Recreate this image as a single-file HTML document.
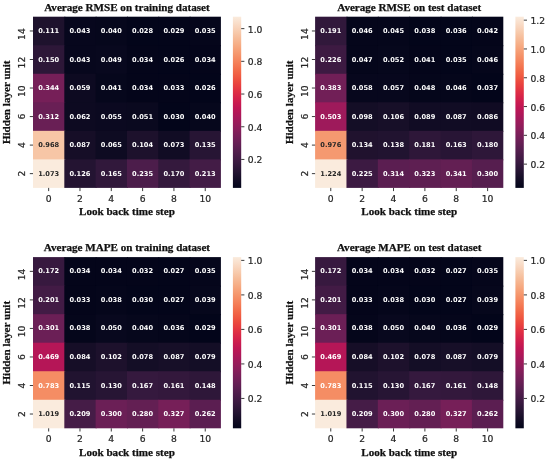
<!DOCTYPE html>
<html lang="en"><head><meta charset="utf-8"><title>Heatmaps</title>
<style>
html,body{margin:0;padding:0;background:#fff;}
svg{display:block;}
text{font-family:"DejaVu Sans","Liberation Sans",sans-serif;fill:#262626;}
.ann{font-size:6.65px;font-weight:bold;text-anchor:middle;}
.wh{fill:#ffffff;}
.dk{fill:#262626;}
.title{font-family:"Liberation Serif",serif;font-weight:bold;font-size:11.1px;text-anchor:middle;fill:#111;stroke:#111;stroke-width:0.25px;}
.lab{font-family:"Liberation Serif",serif;font-weight:bold;font-size:11.1px;text-anchor:middle;fill:#111;stroke:#111;stroke-width:0.25px;}
.tl{font-size:9.2px;text-anchor:middle;stroke:#262626;stroke-width:0.22px;}
.cl{font-size:9.2px;text-anchor:start;stroke:#262626;stroke-width:0.22px;}
.tk{stroke:#262626;stroke-width:0.9;}
</style></head>
<body>
<svg width="550" height="462" viewBox="0 0 550 462">
<defs><linearGradient id="cb0" x1="0" y1="0" x2="0" y2="1"><stop offset="0.0000" stop-color="#faebdd"/><stop offset="0.0312" stop-color="#f9e0cd"/><stop offset="0.0625" stop-color="#f8d4bc"/><stop offset="0.0938" stop-color="#f7c9aa"/><stop offset="0.1250" stop-color="#f6bc99"/><stop offset="0.1562" stop-color="#f6b089"/><stop offset="0.1875" stop-color="#f6a37a"/><stop offset="0.2188" stop-color="#f5966c"/><stop offset="0.2500" stop-color="#f58860"/><stop offset="0.2812" stop-color="#f47a54"/><stop offset="0.3125" stop-color="#f26b49"/><stop offset="0.3438" stop-color="#f05c42"/><stop offset="0.3750" stop-color="#ec4c3e"/><stop offset="0.4062" stop-color="#e73d3f"/><stop offset="0.4375" stop-color="#df2f44"/><stop offset="0.4688" stop-color="#d62449"/><stop offset="0.5000" stop-color="#cb1b4f"/><stop offset="0.5312" stop-color="#bf1654"/><stop offset="0.5625" stop-color="#b21758"/><stop offset="0.5938" stop-color="#a4195b"/><stop offset="0.6250" stop-color="#971c5b"/><stop offset="0.6562" stop-color="#891e5b"/><stop offset="0.6875" stop-color="#7b1f59"/><stop offset="0.7188" stop-color="#6e1f57"/><stop offset="0.7500" stop-color="#611f53"/><stop offset="0.7812" stop-color="#541e4e"/><stop offset="0.8125" stop-color="#481c48"/><stop offset="0.8438" stop-color="#3c1a42"/><stop offset="0.8750" stop-color="#30173a"/><stop offset="0.9062" stop-color="#241432"/><stop offset="0.9375" stop-color="#180f29"/><stop offset="0.9688" stop-color="#0d0a21"/><stop offset="1.0000" stop-color="#03051a"/></linearGradient><linearGradient id="cb1" x1="0" y1="0" x2="0" y2="1"><stop offset="0.0000" stop-color="#faebdd"/><stop offset="0.0312" stop-color="#f9e0cd"/><stop offset="0.0625" stop-color="#f8d4bc"/><stop offset="0.0938" stop-color="#f7c9aa"/><stop offset="0.1250" stop-color="#f6bc99"/><stop offset="0.1562" stop-color="#f6b089"/><stop offset="0.1875" stop-color="#f6a37a"/><stop offset="0.2188" stop-color="#f5966c"/><stop offset="0.2500" stop-color="#f58860"/><stop offset="0.2812" stop-color="#f47a54"/><stop offset="0.3125" stop-color="#f26b49"/><stop offset="0.3438" stop-color="#f05c42"/><stop offset="0.3750" stop-color="#ec4c3e"/><stop offset="0.4062" stop-color="#e73d3f"/><stop offset="0.4375" stop-color="#df2f44"/><stop offset="0.4688" stop-color="#d62449"/><stop offset="0.5000" stop-color="#cb1b4f"/><stop offset="0.5312" stop-color="#bf1654"/><stop offset="0.5625" stop-color="#b21758"/><stop offset="0.5938" stop-color="#a4195b"/><stop offset="0.6250" stop-color="#971c5b"/><stop offset="0.6562" stop-color="#891e5b"/><stop offset="0.6875" stop-color="#7b1f59"/><stop offset="0.7188" stop-color="#6e1f57"/><stop offset="0.7500" stop-color="#611f53"/><stop offset="0.7812" stop-color="#541e4e"/><stop offset="0.8125" stop-color="#481c48"/><stop offset="0.8438" stop-color="#3c1a42"/><stop offset="0.8750" stop-color="#30173a"/><stop offset="0.9062" stop-color="#241432"/><stop offset="0.9375" stop-color="#180f29"/><stop offset="0.9688" stop-color="#0d0a21"/><stop offset="1.0000" stop-color="#03051a"/></linearGradient><linearGradient id="cb2" x1="0" y1="0" x2="0" y2="1"><stop offset="0.0000" stop-color="#faebdd"/><stop offset="0.0312" stop-color="#f9e0cd"/><stop offset="0.0625" stop-color="#f8d4bc"/><stop offset="0.0938" stop-color="#f7c9aa"/><stop offset="0.1250" stop-color="#f6bc99"/><stop offset="0.1562" stop-color="#f6b089"/><stop offset="0.1875" stop-color="#f6a37a"/><stop offset="0.2188" stop-color="#f5966c"/><stop offset="0.2500" stop-color="#f58860"/><stop offset="0.2812" stop-color="#f47a54"/><stop offset="0.3125" stop-color="#f26b49"/><stop offset="0.3438" stop-color="#f05c42"/><stop offset="0.3750" stop-color="#ec4c3e"/><stop offset="0.4062" stop-color="#e73d3f"/><stop offset="0.4375" stop-color="#df2f44"/><stop offset="0.4688" stop-color="#d62449"/><stop offset="0.5000" stop-color="#cb1b4f"/><stop offset="0.5312" stop-color="#bf1654"/><stop offset="0.5625" stop-color="#b21758"/><stop offset="0.5938" stop-color="#a4195b"/><stop offset="0.6250" stop-color="#971c5b"/><stop offset="0.6562" stop-color="#891e5b"/><stop offset="0.6875" stop-color="#7b1f59"/><stop offset="0.7188" stop-color="#6e1f57"/><stop offset="0.7500" stop-color="#611f53"/><stop offset="0.7812" stop-color="#541e4e"/><stop offset="0.8125" stop-color="#481c48"/><stop offset="0.8438" stop-color="#3c1a42"/><stop offset="0.8750" stop-color="#30173a"/><stop offset="0.9062" stop-color="#241432"/><stop offset="0.9375" stop-color="#180f29"/><stop offset="0.9688" stop-color="#0d0a21"/><stop offset="1.0000" stop-color="#03051a"/></linearGradient><linearGradient id="cb3" x1="0" y1="0" x2="0" y2="1"><stop offset="0.0000" stop-color="#faebdd"/><stop offset="0.0312" stop-color="#f9e0cd"/><stop offset="0.0625" stop-color="#f8d4bc"/><stop offset="0.0938" stop-color="#f7c9aa"/><stop offset="0.1250" stop-color="#f6bc99"/><stop offset="0.1562" stop-color="#f6b089"/><stop offset="0.1875" stop-color="#f6a37a"/><stop offset="0.2188" stop-color="#f5966c"/><stop offset="0.2500" stop-color="#f58860"/><stop offset="0.2812" stop-color="#f47a54"/><stop offset="0.3125" stop-color="#f26b49"/><stop offset="0.3438" stop-color="#f05c42"/><stop offset="0.3750" stop-color="#ec4c3e"/><stop offset="0.4062" stop-color="#e73d3f"/><stop offset="0.4375" stop-color="#df2f44"/><stop offset="0.4688" stop-color="#d62449"/><stop offset="0.5000" stop-color="#cb1b4f"/><stop offset="0.5312" stop-color="#bf1654"/><stop offset="0.5625" stop-color="#b21758"/><stop offset="0.5938" stop-color="#a4195b"/><stop offset="0.6250" stop-color="#971c5b"/><stop offset="0.6562" stop-color="#891e5b"/><stop offset="0.6875" stop-color="#7b1f59"/><stop offset="0.7188" stop-color="#6e1f57"/><stop offset="0.7500" stop-color="#611f53"/><stop offset="0.7812" stop-color="#541e4e"/><stop offset="0.8125" stop-color="#481c48"/><stop offset="0.8438" stop-color="#3c1a42"/><stop offset="0.8750" stop-color="#30173a"/><stop offset="0.9062" stop-color="#241432"/><stop offset="0.9375" stop-color="#180f29"/><stop offset="0.9688" stop-color="#0d0a21"/><stop offset="1.0000" stop-color="#03051a"/></linearGradient></defs>
<rect x="0" y="0" width="550" height="462" fill="#ffffff"/>
<g><rect x="33.00" y="16.70" width="32.32" height="29.53" fill="#1e122d"/>
<rect x="64.32" y="16.70" width="32.32" height="29.53" fill="#07071d"/>
<rect x="95.63" y="16.70" width="32.32" height="29.53" fill="#06071c"/>
<rect x="126.95" y="16.70" width="32.32" height="29.53" fill="#03051a"/>
<rect x="158.27" y="16.70" width="32.32" height="29.53" fill="#03051a"/>
<rect x="189.58" y="16.70" width="31.32" height="29.53" fill="#05061b"/>
<rect x="33.00" y="45.23" width="32.32" height="29.53" fill="#2d1738"/>
<rect x="64.32" y="45.23" width="32.32" height="29.53" fill="#07071d"/>
<rect x="95.63" y="45.23" width="32.32" height="29.53" fill="#08081e"/>
<rect x="126.95" y="45.23" width="32.32" height="29.53" fill="#04051a"/>
<rect x="158.27" y="45.23" width="32.32" height="29.53" fill="#03051a"/>
<rect x="189.58" y="45.23" width="31.32" height="29.53" fill="#04051a"/>
<rect x="33.00" y="73.77" width="32.32" height="29.53" fill="#761f58"/>
<rect x="64.32" y="73.77" width="32.32" height="29.53" fill="#0d0a21"/>
<rect x="95.63" y="73.77" width="32.32" height="29.53" fill="#06071c"/>
<rect x="126.95" y="73.77" width="32.32" height="29.53" fill="#04051a"/>
<rect x="158.27" y="73.77" width="32.32" height="29.53" fill="#04051a"/>
<rect x="189.58" y="73.77" width="31.32" height="29.53" fill="#03051a"/>
<rect x="33.00" y="102.30" width="32.32" height="29.53" fill="#691f55"/>
<rect x="64.32" y="102.30" width="32.32" height="29.53" fill="#0d0a21"/>
<rect x="95.63" y="102.30" width="32.32" height="29.53" fill="#0b0920"/>
<rect x="126.95" y="102.30" width="32.32" height="29.53" fill="#0a091f"/>
<rect x="158.27" y="102.30" width="32.32" height="29.53" fill="#03051a"/>
<rect x="189.58" y="102.30" width="31.32" height="29.53" fill="#06071c"/>
<rect x="33.00" y="130.83" width="32.32" height="29.53" fill="#f7c6a6"/>
<rect x="64.32" y="130.83" width="32.32" height="29.53" fill="#160e27"/>
<rect x="95.63" y="130.83" width="32.32" height="29.53" fill="#0e0b22"/>
<rect x="126.95" y="130.83" width="32.32" height="29.53" fill="#1d112c"/>
<rect x="158.27" y="130.83" width="32.32" height="29.53" fill="#110c24"/>
<rect x="189.58" y="130.83" width="31.32" height="29.53" fill="#271534"/>
<rect x="33.00" y="159.37" width="32.32" height="28.53" fill="#faebdd"/>
<rect x="64.32" y="159.37" width="32.32" height="28.53" fill="#241432"/>
<rect x="95.63" y="159.37" width="32.32" height="28.53" fill="#31183b"/>
<rect x="126.95" y="159.37" width="32.32" height="28.53" fill="#4c1d4b"/>
<rect x="158.27" y="159.37" width="32.32" height="28.53" fill="#34193d"/>
<rect x="189.58" y="159.37" width="31.32" height="28.53" fill="#431c46"/>
<text class="ann wh" x="48.66" y="32.99">0.111</text>
<text class="ann wh" x="79.97" y="32.99">0.043</text>
<text class="ann wh" x="111.29" y="32.99">0.040</text>
<text class="ann wh" x="142.61" y="32.99">0.028</text>
<text class="ann wh" x="173.93" y="32.99">0.029</text>
<text class="ann wh" x="205.24" y="32.99">0.035</text>
<text class="ann wh" x="48.66" y="61.52">0.150</text>
<text class="ann wh" x="79.97" y="61.52">0.043</text>
<text class="ann wh" x="111.29" y="61.52">0.049</text>
<text class="ann wh" x="142.61" y="61.52">0.034</text>
<text class="ann wh" x="173.93" y="61.52">0.026</text>
<text class="ann wh" x="205.24" y="61.52">0.034</text>
<text class="ann wh" x="48.66" y="90.06">0.344</text>
<text class="ann wh" x="79.97" y="90.06">0.059</text>
<text class="ann wh" x="111.29" y="90.06">0.041</text>
<text class="ann wh" x="142.61" y="90.06">0.034</text>
<text class="ann wh" x="173.93" y="90.06">0.033</text>
<text class="ann wh" x="205.24" y="90.06">0.026</text>
<text class="ann wh" x="48.66" y="118.59">0.312</text>
<text class="ann wh" x="79.97" y="118.59">0.062</text>
<text class="ann wh" x="111.29" y="118.59">0.055</text>
<text class="ann wh" x="142.61" y="118.59">0.051</text>
<text class="ann wh" x="173.93" y="118.59">0.030</text>
<text class="ann wh" x="205.24" y="118.59">0.040</text>
<text class="ann dk" x="48.66" y="147.12">0.968</text>
<text class="ann wh" x="79.97" y="147.12">0.087</text>
<text class="ann wh" x="111.29" y="147.12">0.065</text>
<text class="ann wh" x="142.61" y="147.12">0.104</text>
<text class="ann wh" x="173.93" y="147.12">0.073</text>
<text class="ann wh" x="205.24" y="147.12">0.135</text>
<text class="ann dk" x="48.66" y="175.66">1.073</text>
<text class="ann wh" x="79.97" y="175.66">0.126</text>
<text class="ann wh" x="111.29" y="175.66">0.165</text>
<text class="ann wh" x="142.61" y="175.66">0.235</text>
<text class="ann wh" x="173.93" y="175.66">0.170</text>
<text class="ann wh" x="205.24" y="175.66">0.213</text>
<text class="title" x="126.95" y="10.90">Average RMSE on training dataset</text>
<text class="lab" x="126.95" y="215.40">Look back time step</text>
<text class="lab" transform="translate(10.40,102.30) rotate(-90)" x="0" y="0">Hidden layer unit</text>
<line x1="48.66" x2="48.66" y1="187.90" y2="191.10" class="tk"/>
<text class="tl" x="48.66" y="201.70">0</text>
<line x1="79.97" x2="79.97" y1="187.90" y2="191.10" class="tk"/>
<text class="tl" x="79.97" y="201.70">2</text>
<line x1="111.29" x2="111.29" y1="187.90" y2="191.10" class="tk"/>
<text class="tl" x="111.29" y="201.70">4</text>
<line x1="142.61" x2="142.61" y1="187.90" y2="191.10" class="tk"/>
<text class="tl" x="142.61" y="201.70">6</text>
<line x1="173.93" x2="173.93" y1="187.90" y2="191.10" class="tk"/>
<text class="tl" x="173.93" y="201.70">8</text>
<line x1="205.24" x2="205.24" y1="187.90" y2="191.10" class="tk"/>
<text class="tl" x="205.24" y="201.70">10</text>
<line x1="29.80" x2="33.00" y1="30.97" y2="30.97" class="tk"/>
<text class="tl" transform="translate(25.40,34.07) rotate(-90)" x="0" y="0">14</text>
<line x1="29.80" x2="33.00" y1="59.50" y2="59.50" class="tk"/>
<text class="tl" transform="translate(25.40,62.60) rotate(-90)" x="0" y="0">12</text>
<line x1="29.80" x2="33.00" y1="88.03" y2="88.03" class="tk"/>
<text class="tl" transform="translate(25.40,91.13) rotate(-90)" x="0" y="0">10</text>
<line x1="29.80" x2="33.00" y1="116.57" y2="116.57" class="tk"/>
<text class="tl" transform="translate(25.40,116.57) rotate(-90)" x="0" y="0">6</text>
<line x1="29.80" x2="33.00" y1="145.10" y2="145.10" class="tk"/>
<text class="tl" transform="translate(25.40,145.10) rotate(-90)" x="0" y="0">4</text>
<line x1="29.80" x2="33.00" y1="173.63" y2="173.63" class="tk"/>
<text class="tl" transform="translate(25.40,173.63) rotate(-90)" x="0" y="0">2</text>
<rect x="232.90" y="16.70" width="8.30" height="171.20" fill="url(#cb0)"/>
<line x1="241.20" x2="244.40" y1="159.45" y2="159.45" class="tk"/>
<text class="cl" x="247.80" y="163.40">0.2</text>
<line x1="241.20" x2="244.40" y1="126.75" y2="126.75" class="tk"/>
<text class="cl" x="247.80" y="130.70">0.4</text>
<line x1="241.20" x2="244.40" y1="94.04" y2="94.04" class="tk"/>
<text class="cl" x="247.80" y="98.00">0.6</text>
<line x1="241.20" x2="244.40" y1="61.34" y2="61.34" class="tk"/>
<text class="cl" x="247.80" y="65.29">0.8</text>
<line x1="241.20" x2="244.40" y1="28.64" y2="28.64" class="tk"/>
<text class="cl" x="247.80" y="32.59">1.0</text></g><g><rect x="315.10" y="16.70" width="32.37" height="29.53" fill="#31183b"/>
<rect x="346.47" y="16.70" width="32.37" height="29.53" fill="#05061b"/>
<rect x="377.83" y="16.70" width="32.37" height="29.53" fill="#05061b"/>
<rect x="409.20" y="16.70" width="32.37" height="29.53" fill="#03051a"/>
<rect x="440.57" y="16.70" width="32.37" height="29.53" fill="#03051a"/>
<rect x="471.93" y="16.70" width="31.37" height="29.53" fill="#04051a"/>
<rect x="315.10" y="45.23" width="32.37" height="29.53" fill="#3d1a42"/>
<rect x="346.47" y="45.23" width="32.37" height="29.53" fill="#05061b"/>
<rect x="377.83" y="45.23" width="32.37" height="29.53" fill="#06071c"/>
<rect x="409.20" y="45.23" width="32.37" height="29.53" fill="#04051a"/>
<rect x="440.57" y="45.23" width="32.37" height="29.53" fill="#03051a"/>
<rect x="471.93" y="45.23" width="31.37" height="29.53" fill="#05061b"/>
<rect x="315.10" y="73.77" width="32.37" height="29.53" fill="#711f57"/>
<rect x="346.47" y="73.77" width="32.37" height="29.53" fill="#07071d"/>
<rect x="377.83" y="73.77" width="32.37" height="29.53" fill="#07071d"/>
<rect x="409.20" y="73.77" width="32.37" height="29.53" fill="#05061b"/>
<rect x="440.57" y="73.77" width="32.37" height="29.53" fill="#05061b"/>
<rect x="471.93" y="73.77" width="31.37" height="29.53" fill="#03051a"/>
<rect x="315.10" y="102.30" width="32.37" height="29.53" fill="#9e1a5b"/>
<rect x="346.47" y="102.30" width="32.37" height="29.53" fill="#140e26"/>
<rect x="377.83" y="102.30" width="32.37" height="29.53" fill="#170f28"/>
<rect x="409.20" y="102.30" width="32.37" height="29.53" fill="#110c24"/>
<rect x="440.57" y="102.30" width="32.37" height="29.53" fill="#110c24"/>
<rect x="471.93" y="102.30" width="31.37" height="29.53" fill="#100b23"/>
<rect x="315.10" y="130.83" width="32.37" height="29.53" fill="#f59970"/>
<rect x="346.47" y="130.83" width="32.37" height="29.53" fill="#20122e"/>
<rect x="377.83" y="130.83" width="32.37" height="29.53" fill="#211330"/>
<rect x="409.20" y="130.83" width="32.37" height="29.53" fill="#2e1739"/>
<rect x="440.57" y="130.83" width="32.37" height="29.53" fill="#281535"/>
<rect x="471.93" y="130.83" width="31.37" height="29.53" fill="#2e1739"/>
<rect x="315.10" y="159.37" width="32.37" height="28.53" fill="#faebdd"/>
<rect x="346.47" y="159.37" width="32.37" height="28.53" fill="#3c1a42"/>
<rect x="377.83" y="159.37" width="32.37" height="28.53" fill="#5b1e51"/>
<rect x="409.20" y="159.37" width="32.37" height="28.53" fill="#5e1f52"/>
<rect x="440.57" y="159.37" width="32.37" height="28.53" fill="#631f53"/>
<rect x="471.93" y="159.37" width="31.37" height="28.53" fill="#561e4f"/>
<text class="ann wh" x="330.78" y="32.99">0.191</text>
<text class="ann wh" x="362.15" y="32.99">0.046</text>
<text class="ann wh" x="393.52" y="32.99">0.045</text>
<text class="ann wh" x="424.88" y="32.99">0.038</text>
<text class="ann wh" x="456.25" y="32.99">0.036</text>
<text class="ann wh" x="487.62" y="32.99">0.042</text>
<text class="ann wh" x="330.78" y="61.52">0.226</text>
<text class="ann wh" x="362.15" y="61.52">0.047</text>
<text class="ann wh" x="393.52" y="61.52">0.052</text>
<text class="ann wh" x="424.88" y="61.52">0.041</text>
<text class="ann wh" x="456.25" y="61.52">0.035</text>
<text class="ann wh" x="487.62" y="61.52">0.046</text>
<text class="ann wh" x="330.78" y="90.06">0.383</text>
<text class="ann wh" x="362.15" y="90.06">0.058</text>
<text class="ann wh" x="393.52" y="90.06">0.057</text>
<text class="ann wh" x="424.88" y="90.06">0.048</text>
<text class="ann wh" x="456.25" y="90.06">0.046</text>
<text class="ann wh" x="487.62" y="90.06">0.037</text>
<text class="ann wh" x="330.78" y="118.59">0.503</text>
<text class="ann wh" x="362.15" y="118.59">0.098</text>
<text class="ann wh" x="393.52" y="118.59">0.106</text>
<text class="ann wh" x="424.88" y="118.59">0.089</text>
<text class="ann wh" x="456.25" y="118.59">0.087</text>
<text class="ann wh" x="487.62" y="118.59">0.086</text>
<text class="ann dk" x="330.78" y="147.12">0.976</text>
<text class="ann wh" x="362.15" y="147.12">0.134</text>
<text class="ann wh" x="393.52" y="147.12">0.138</text>
<text class="ann wh" x="424.88" y="147.12">0.181</text>
<text class="ann wh" x="456.25" y="147.12">0.163</text>
<text class="ann wh" x="487.62" y="147.12">0.180</text>
<text class="ann dk" x="330.78" y="175.66">1.224</text>
<text class="ann wh" x="362.15" y="175.66">0.225</text>
<text class="ann wh" x="393.52" y="175.66">0.314</text>
<text class="ann wh" x="424.88" y="175.66">0.323</text>
<text class="ann wh" x="456.25" y="175.66">0.341</text>
<text class="ann wh" x="487.62" y="175.66">0.300</text>
<text class="title" x="409.20" y="10.90">Average RMSE on test dataset</text>
<text class="lab" x="409.20" y="215.40">Look back time step</text>
<text class="lab" transform="translate(292.50,102.30) rotate(-90)" x="0" y="0">Hidden layer unit</text>
<line x1="330.78" x2="330.78" y1="187.90" y2="191.10" class="tk"/>
<text class="tl" x="330.78" y="201.70">0</text>
<line x1="362.15" x2="362.15" y1="187.90" y2="191.10" class="tk"/>
<text class="tl" x="362.15" y="201.70">2</text>
<line x1="393.52" x2="393.52" y1="187.90" y2="191.10" class="tk"/>
<text class="tl" x="393.52" y="201.70">4</text>
<line x1="424.88" x2="424.88" y1="187.90" y2="191.10" class="tk"/>
<text class="tl" x="424.88" y="201.70">6</text>
<line x1="456.25" x2="456.25" y1="187.90" y2="191.10" class="tk"/>
<text class="tl" x="456.25" y="201.70">8</text>
<line x1="487.62" x2="487.62" y1="187.90" y2="191.10" class="tk"/>
<text class="tl" x="487.62" y="201.70">10</text>
<line x1="311.90" x2="315.10" y1="30.97" y2="30.97" class="tk"/>
<text class="tl" transform="translate(307.50,34.07) rotate(-90)" x="0" y="0">14</text>
<line x1="311.90" x2="315.10" y1="59.50" y2="59.50" class="tk"/>
<text class="tl" transform="translate(307.50,62.60) rotate(-90)" x="0" y="0">12</text>
<line x1="311.90" x2="315.10" y1="88.03" y2="88.03" class="tk"/>
<text class="tl" transform="translate(307.50,91.13) rotate(-90)" x="0" y="0">10</text>
<line x1="311.90" x2="315.10" y1="116.57" y2="116.57" class="tk"/>
<text class="tl" transform="translate(307.50,116.57) rotate(-90)" x="0" y="0">6</text>
<line x1="311.90" x2="315.10" y1="145.10" y2="145.10" class="tk"/>
<text class="tl" transform="translate(307.50,145.10) rotate(-90)" x="0" y="0">4</text>
<line x1="311.90" x2="315.10" y1="173.63" y2="173.63" class="tk"/>
<text class="tl" transform="translate(307.50,173.63) rotate(-90)" x="0" y="0">2</text>
<rect x="515.40" y="16.70" width="8.40" height="171.20" fill="url(#cb1)"/>
<line x1="523.80" x2="527.00" y1="164.14" y2="164.14" class="tk"/>
<text class="cl" x="530.40" y="168.10">0.2</text>
<line x1="523.80" x2="527.00" y1="135.34" y2="135.34" class="tk"/>
<text class="cl" x="530.40" y="139.30">0.4</text>
<line x1="523.80" x2="527.00" y1="106.55" y2="106.55" class="tk"/>
<text class="cl" x="530.40" y="110.50">0.6</text>
<line x1="523.80" x2="527.00" y1="77.75" y2="77.75" class="tk"/>
<text class="cl" x="530.40" y="81.70">0.8</text>
<line x1="523.80" x2="527.00" y1="48.95" y2="48.95" class="tk"/>
<text class="cl" x="530.40" y="52.91">1.0</text>
<line x1="523.80" x2="527.00" y1="20.16" y2="20.16" class="tk"/>
<text class="cl" x="530.40" y="24.11">1.2</text></g><g><rect x="33.00" y="257.10" width="32.32" height="29.53" fill="#37193f"/>
<rect x="64.32" y="257.10" width="32.32" height="29.53" fill="#04051a"/>
<rect x="95.63" y="257.10" width="32.32" height="29.53" fill="#04051a"/>
<rect x="126.95" y="257.10" width="32.32" height="29.53" fill="#04051a"/>
<rect x="158.27" y="257.10" width="32.32" height="29.53" fill="#03051a"/>
<rect x="189.58" y="257.10" width="31.32" height="29.53" fill="#05061b"/>
<rect x="33.00" y="285.63" width="32.32" height="29.53" fill="#421b45"/>
<rect x="64.32" y="285.63" width="32.32" height="29.53" fill="#04051a"/>
<rect x="95.63" y="285.63" width="32.32" height="29.53" fill="#05061b"/>
<rect x="126.95" y="285.63" width="32.32" height="29.53" fill="#03051a"/>
<rect x="158.27" y="285.63" width="32.32" height="29.53" fill="#03051a"/>
<rect x="189.58" y="285.63" width="31.32" height="29.53" fill="#06071c"/>
<rect x="33.00" y="314.17" width="32.32" height="29.53" fill="#6b1f56"/>
<rect x="64.32" y="314.17" width="32.32" height="29.53" fill="#05061b"/>
<rect x="95.63" y="314.17" width="32.32" height="29.53" fill="#08081e"/>
<rect x="126.95" y="314.17" width="32.32" height="29.53" fill="#06071c"/>
<rect x="158.27" y="314.17" width="32.32" height="29.53" fill="#05061b"/>
<rect x="189.58" y="314.17" width="31.32" height="29.53" fill="#03051a"/>
<rect x="33.00" y="342.70" width="32.32" height="29.53" fill="#b51657"/>
<rect x="64.32" y="342.70" width="32.32" height="29.53" fill="#160e27"/>
<rect x="95.63" y="342.70" width="32.32" height="29.53" fill="#1d112c"/>
<rect x="126.95" y="342.70" width="32.32" height="29.53" fill="#140e26"/>
<rect x="158.27" y="342.70" width="32.32" height="29.53" fill="#170f28"/>
<rect x="189.58" y="342.70" width="31.32" height="29.53" fill="#140e26"/>
<rect x="33.00" y="371.23" width="32.32" height="29.53" fill="#f58d64"/>
<rect x="64.32" y="371.23" width="32.32" height="29.53" fill="#211330"/>
<rect x="95.63" y="371.23" width="32.32" height="29.53" fill="#271534"/>
<rect x="126.95" y="371.23" width="32.32" height="29.53" fill="#35193e"/>
<rect x="158.27" y="371.23" width="32.32" height="29.53" fill="#33183c"/>
<rect x="189.58" y="371.23" width="31.32" height="29.53" fill="#2e1739"/>
<rect x="33.00" y="399.77" width="32.32" height="28.53" fill="#faebdd"/>
<rect x="64.32" y="399.77" width="32.32" height="28.53" fill="#451c47"/>
<rect x="95.63" y="399.77" width="32.32" height="28.53" fill="#6b1f56"/>
<rect x="126.95" y="399.77" width="32.32" height="28.53" fill="#631f53"/>
<rect x="158.27" y="399.77" width="32.32" height="28.53" fill="#761f58"/>
<rect x="189.58" y="399.77" width="31.32" height="28.53" fill="#5b1e51"/>
<text class="ann wh" x="48.66" y="273.39">0.172</text>
<text class="ann wh" x="79.97" y="273.39">0.034</text>
<text class="ann wh" x="111.29" y="273.39">0.034</text>
<text class="ann wh" x="142.61" y="273.39">0.032</text>
<text class="ann wh" x="173.93" y="273.39">0.027</text>
<text class="ann wh" x="205.24" y="273.39">0.035</text>
<text class="ann wh" x="48.66" y="301.92">0.201</text>
<text class="ann wh" x="79.97" y="301.92">0.033</text>
<text class="ann wh" x="111.29" y="301.92">0.038</text>
<text class="ann wh" x="142.61" y="301.92">0.030</text>
<text class="ann wh" x="173.93" y="301.92">0.027</text>
<text class="ann wh" x="205.24" y="301.92">0.039</text>
<text class="ann wh" x="48.66" y="330.46">0.301</text>
<text class="ann wh" x="79.97" y="330.46">0.038</text>
<text class="ann wh" x="111.29" y="330.46">0.050</text>
<text class="ann wh" x="142.61" y="330.46">0.040</text>
<text class="ann wh" x="173.93" y="330.46">0.036</text>
<text class="ann wh" x="205.24" y="330.46">0.029</text>
<text class="ann wh" x="48.66" y="358.99">0.469</text>
<text class="ann wh" x="79.97" y="358.99">0.084</text>
<text class="ann wh" x="111.29" y="358.99">0.102</text>
<text class="ann wh" x="142.61" y="358.99">0.078</text>
<text class="ann wh" x="173.93" y="358.99">0.087</text>
<text class="ann wh" x="205.24" y="358.99">0.079</text>
<text class="ann wh" x="48.66" y="387.52">0.783</text>
<text class="ann wh" x="79.97" y="387.52">0.115</text>
<text class="ann wh" x="111.29" y="387.52">0.130</text>
<text class="ann wh" x="142.61" y="387.52">0.167</text>
<text class="ann wh" x="173.93" y="387.52">0.161</text>
<text class="ann wh" x="205.24" y="387.52">0.148</text>
<text class="ann dk" x="48.66" y="416.06">1.019</text>
<text class="ann wh" x="79.97" y="416.06">0.209</text>
<text class="ann wh" x="111.29" y="416.06">0.300</text>
<text class="ann wh" x="142.61" y="416.06">0.280</text>
<text class="ann wh" x="173.93" y="416.06">0.327</text>
<text class="ann wh" x="205.24" y="416.06">0.262</text>
<text class="title" x="126.95" y="251.30">Average MAPE on training dataset</text>
<text class="lab" x="126.95" y="455.50">Look back time step</text>
<text class="lab" transform="translate(10.40,342.70) rotate(-90)" x="0" y="0">Hidden layer unit</text>
<line x1="48.66" x2="48.66" y1="428.30" y2="431.50" class="tk"/>
<text class="tl" x="48.66" y="441.80">0</text>
<line x1="79.97" x2="79.97" y1="428.30" y2="431.50" class="tk"/>
<text class="tl" x="79.97" y="441.80">2</text>
<line x1="111.29" x2="111.29" y1="428.30" y2="431.50" class="tk"/>
<text class="tl" x="111.29" y="441.80">4</text>
<line x1="142.61" x2="142.61" y1="428.30" y2="431.50" class="tk"/>
<text class="tl" x="142.61" y="441.80">6</text>
<line x1="173.93" x2="173.93" y1="428.30" y2="431.50" class="tk"/>
<text class="tl" x="173.93" y="441.80">8</text>
<line x1="205.24" x2="205.24" y1="428.30" y2="431.50" class="tk"/>
<text class="tl" x="205.24" y="441.80">10</text>
<line x1="29.80" x2="33.00" y1="271.37" y2="271.37" class="tk"/>
<text class="tl" transform="translate(25.40,274.47) rotate(-90)" x="0" y="0">14</text>
<line x1="29.80" x2="33.00" y1="299.90" y2="299.90" class="tk"/>
<text class="tl" transform="translate(25.40,303.00) rotate(-90)" x="0" y="0">12</text>
<line x1="29.80" x2="33.00" y1="328.43" y2="328.43" class="tk"/>
<text class="tl" transform="translate(25.40,331.53) rotate(-90)" x="0" y="0">10</text>
<line x1="29.80" x2="33.00" y1="356.97" y2="356.97" class="tk"/>
<text class="tl" transform="translate(25.40,356.97) rotate(-90)" x="0" y="0">6</text>
<line x1="29.80" x2="33.00" y1="385.50" y2="385.50" class="tk"/>
<text class="tl" transform="translate(25.40,385.50) rotate(-90)" x="0" y="0">4</text>
<line x1="29.80" x2="33.00" y1="414.03" y2="414.03" class="tk"/>
<text class="tl" transform="translate(25.40,414.03) rotate(-90)" x="0" y="0">2</text>
<rect x="232.90" y="257.10" width="8.30" height="171.20" fill="url(#cb2)"/>
<line x1="241.20" x2="244.40" y1="398.44" y2="398.44" class="tk"/>
<text class="cl" x="247.80" y="402.40">0.2</text>
<line x1="241.20" x2="244.40" y1="363.93" y2="363.93" class="tk"/>
<text class="cl" x="247.80" y="367.88">0.4</text>
<line x1="241.20" x2="244.40" y1="329.41" y2="329.41" class="tk"/>
<text class="cl" x="247.80" y="333.36">0.6</text>
<line x1="241.20" x2="244.40" y1="294.90" y2="294.90" class="tk"/>
<text class="cl" x="247.80" y="298.85">0.8</text>
<line x1="241.20" x2="244.40" y1="260.38" y2="260.38" class="tk"/>
<text class="cl" x="247.80" y="264.33">1.0</text></g><g><rect x="315.10" y="257.10" width="32.37" height="29.53" fill="#37193f"/>
<rect x="346.47" y="257.10" width="32.37" height="29.53" fill="#04051a"/>
<rect x="377.83" y="257.10" width="32.37" height="29.53" fill="#04051a"/>
<rect x="409.20" y="257.10" width="32.37" height="29.53" fill="#04051a"/>
<rect x="440.57" y="257.10" width="32.37" height="29.53" fill="#03051a"/>
<rect x="471.93" y="257.10" width="31.37" height="29.53" fill="#05061b"/>
<rect x="315.10" y="285.63" width="32.37" height="29.53" fill="#421b45"/>
<rect x="346.47" y="285.63" width="32.37" height="29.53" fill="#04051a"/>
<rect x="377.83" y="285.63" width="32.37" height="29.53" fill="#05061b"/>
<rect x="409.20" y="285.63" width="32.37" height="29.53" fill="#03051a"/>
<rect x="440.57" y="285.63" width="32.37" height="29.53" fill="#03051a"/>
<rect x="471.93" y="285.63" width="31.37" height="29.53" fill="#06071c"/>
<rect x="315.10" y="314.17" width="32.37" height="29.53" fill="#6b1f56"/>
<rect x="346.47" y="314.17" width="32.37" height="29.53" fill="#05061b"/>
<rect x="377.83" y="314.17" width="32.37" height="29.53" fill="#08081e"/>
<rect x="409.20" y="314.17" width="32.37" height="29.53" fill="#06071c"/>
<rect x="440.57" y="314.17" width="32.37" height="29.53" fill="#05061b"/>
<rect x="471.93" y="314.17" width="31.37" height="29.53" fill="#03051a"/>
<rect x="315.10" y="342.70" width="32.37" height="29.53" fill="#b51657"/>
<rect x="346.47" y="342.70" width="32.37" height="29.53" fill="#160e27"/>
<rect x="377.83" y="342.70" width="32.37" height="29.53" fill="#1d112c"/>
<rect x="409.20" y="342.70" width="32.37" height="29.53" fill="#140e26"/>
<rect x="440.57" y="342.70" width="32.37" height="29.53" fill="#170f28"/>
<rect x="471.93" y="342.70" width="31.37" height="29.53" fill="#140e26"/>
<rect x="315.10" y="371.23" width="32.37" height="29.53" fill="#f58d64"/>
<rect x="346.47" y="371.23" width="32.37" height="29.53" fill="#211330"/>
<rect x="377.83" y="371.23" width="32.37" height="29.53" fill="#271534"/>
<rect x="409.20" y="371.23" width="32.37" height="29.53" fill="#35193e"/>
<rect x="440.57" y="371.23" width="32.37" height="29.53" fill="#33183c"/>
<rect x="471.93" y="371.23" width="31.37" height="29.53" fill="#2e1739"/>
<rect x="315.10" y="399.77" width="32.37" height="28.53" fill="#faebdd"/>
<rect x="346.47" y="399.77" width="32.37" height="28.53" fill="#451c47"/>
<rect x="377.83" y="399.77" width="32.37" height="28.53" fill="#6b1f56"/>
<rect x="409.20" y="399.77" width="32.37" height="28.53" fill="#631f53"/>
<rect x="440.57" y="399.77" width="32.37" height="28.53" fill="#761f58"/>
<rect x="471.93" y="399.77" width="31.37" height="28.53" fill="#5b1e51"/>
<text class="ann wh" x="330.78" y="273.39">0.172</text>
<text class="ann wh" x="362.15" y="273.39">0.034</text>
<text class="ann wh" x="393.52" y="273.39">0.034</text>
<text class="ann wh" x="424.88" y="273.39">0.032</text>
<text class="ann wh" x="456.25" y="273.39">0.027</text>
<text class="ann wh" x="487.62" y="273.39">0.035</text>
<text class="ann wh" x="330.78" y="301.92">0.201</text>
<text class="ann wh" x="362.15" y="301.92">0.033</text>
<text class="ann wh" x="393.52" y="301.92">0.038</text>
<text class="ann wh" x="424.88" y="301.92">0.030</text>
<text class="ann wh" x="456.25" y="301.92">0.027</text>
<text class="ann wh" x="487.62" y="301.92">0.039</text>
<text class="ann wh" x="330.78" y="330.46">0.301</text>
<text class="ann wh" x="362.15" y="330.46">0.038</text>
<text class="ann wh" x="393.52" y="330.46">0.050</text>
<text class="ann wh" x="424.88" y="330.46">0.040</text>
<text class="ann wh" x="456.25" y="330.46">0.036</text>
<text class="ann wh" x="487.62" y="330.46">0.029</text>
<text class="ann wh" x="330.78" y="358.99">0.469</text>
<text class="ann wh" x="362.15" y="358.99">0.084</text>
<text class="ann wh" x="393.52" y="358.99">0.102</text>
<text class="ann wh" x="424.88" y="358.99">0.078</text>
<text class="ann wh" x="456.25" y="358.99">0.087</text>
<text class="ann wh" x="487.62" y="358.99">0.079</text>
<text class="ann wh" x="330.78" y="387.52">0.783</text>
<text class="ann wh" x="362.15" y="387.52">0.115</text>
<text class="ann wh" x="393.52" y="387.52">0.130</text>
<text class="ann wh" x="424.88" y="387.52">0.167</text>
<text class="ann wh" x="456.25" y="387.52">0.161</text>
<text class="ann wh" x="487.62" y="387.52">0.148</text>
<text class="ann dk" x="330.78" y="416.06">1.019</text>
<text class="ann wh" x="362.15" y="416.06">0.209</text>
<text class="ann wh" x="393.52" y="416.06">0.300</text>
<text class="ann wh" x="424.88" y="416.06">0.280</text>
<text class="ann wh" x="456.25" y="416.06">0.327</text>
<text class="ann wh" x="487.62" y="416.06">0.262</text>
<text class="title" x="409.20" y="251.30">Average MAPE on test dataset</text>
<text class="lab" x="409.20" y="455.50">Look back time step</text>
<text class="lab" transform="translate(292.50,342.70) rotate(-90)" x="0" y="0">Hidden layer unit</text>
<line x1="330.78" x2="330.78" y1="428.30" y2="431.50" class="tk"/>
<text class="tl" x="330.78" y="441.80">0</text>
<line x1="362.15" x2="362.15" y1="428.30" y2="431.50" class="tk"/>
<text class="tl" x="362.15" y="441.80">2</text>
<line x1="393.52" x2="393.52" y1="428.30" y2="431.50" class="tk"/>
<text class="tl" x="393.52" y="441.80">4</text>
<line x1="424.88" x2="424.88" y1="428.30" y2="431.50" class="tk"/>
<text class="tl" x="424.88" y="441.80">6</text>
<line x1="456.25" x2="456.25" y1="428.30" y2="431.50" class="tk"/>
<text class="tl" x="456.25" y="441.80">8</text>
<line x1="487.62" x2="487.62" y1="428.30" y2="431.50" class="tk"/>
<text class="tl" x="487.62" y="441.80">10</text>
<line x1="311.90" x2="315.10" y1="271.37" y2="271.37" class="tk"/>
<text class="tl" transform="translate(307.50,274.47) rotate(-90)" x="0" y="0">14</text>
<line x1="311.90" x2="315.10" y1="299.90" y2="299.90" class="tk"/>
<text class="tl" transform="translate(307.50,303.00) rotate(-90)" x="0" y="0">12</text>
<line x1="311.90" x2="315.10" y1="328.43" y2="328.43" class="tk"/>
<text class="tl" transform="translate(307.50,331.53) rotate(-90)" x="0" y="0">10</text>
<line x1="311.90" x2="315.10" y1="356.97" y2="356.97" class="tk"/>
<text class="tl" transform="translate(307.50,356.97) rotate(-90)" x="0" y="0">6</text>
<line x1="311.90" x2="315.10" y1="385.50" y2="385.50" class="tk"/>
<text class="tl" transform="translate(307.50,385.50) rotate(-90)" x="0" y="0">4</text>
<line x1="311.90" x2="315.10" y1="414.03" y2="414.03" class="tk"/>
<text class="tl" transform="translate(307.50,414.03) rotate(-90)" x="0" y="0">2</text>
<rect x="515.40" y="257.10" width="8.40" height="171.20" fill="url(#cb3)"/>
<line x1="523.80" x2="527.00" y1="398.44" y2="398.44" class="tk"/>
<text class="cl" x="530.40" y="402.40">0.2</text>
<line x1="523.80" x2="527.00" y1="363.93" y2="363.93" class="tk"/>
<text class="cl" x="530.40" y="367.88">0.4</text>
<line x1="523.80" x2="527.00" y1="329.41" y2="329.41" class="tk"/>
<text class="cl" x="530.40" y="333.36">0.6</text>
<line x1="523.80" x2="527.00" y1="294.90" y2="294.90" class="tk"/>
<text class="cl" x="530.40" y="298.85">0.8</text>
<line x1="523.80" x2="527.00" y1="260.38" y2="260.38" class="tk"/>
<text class="cl" x="530.40" y="264.33">1.0</text></g>
</svg>
</body></html>
